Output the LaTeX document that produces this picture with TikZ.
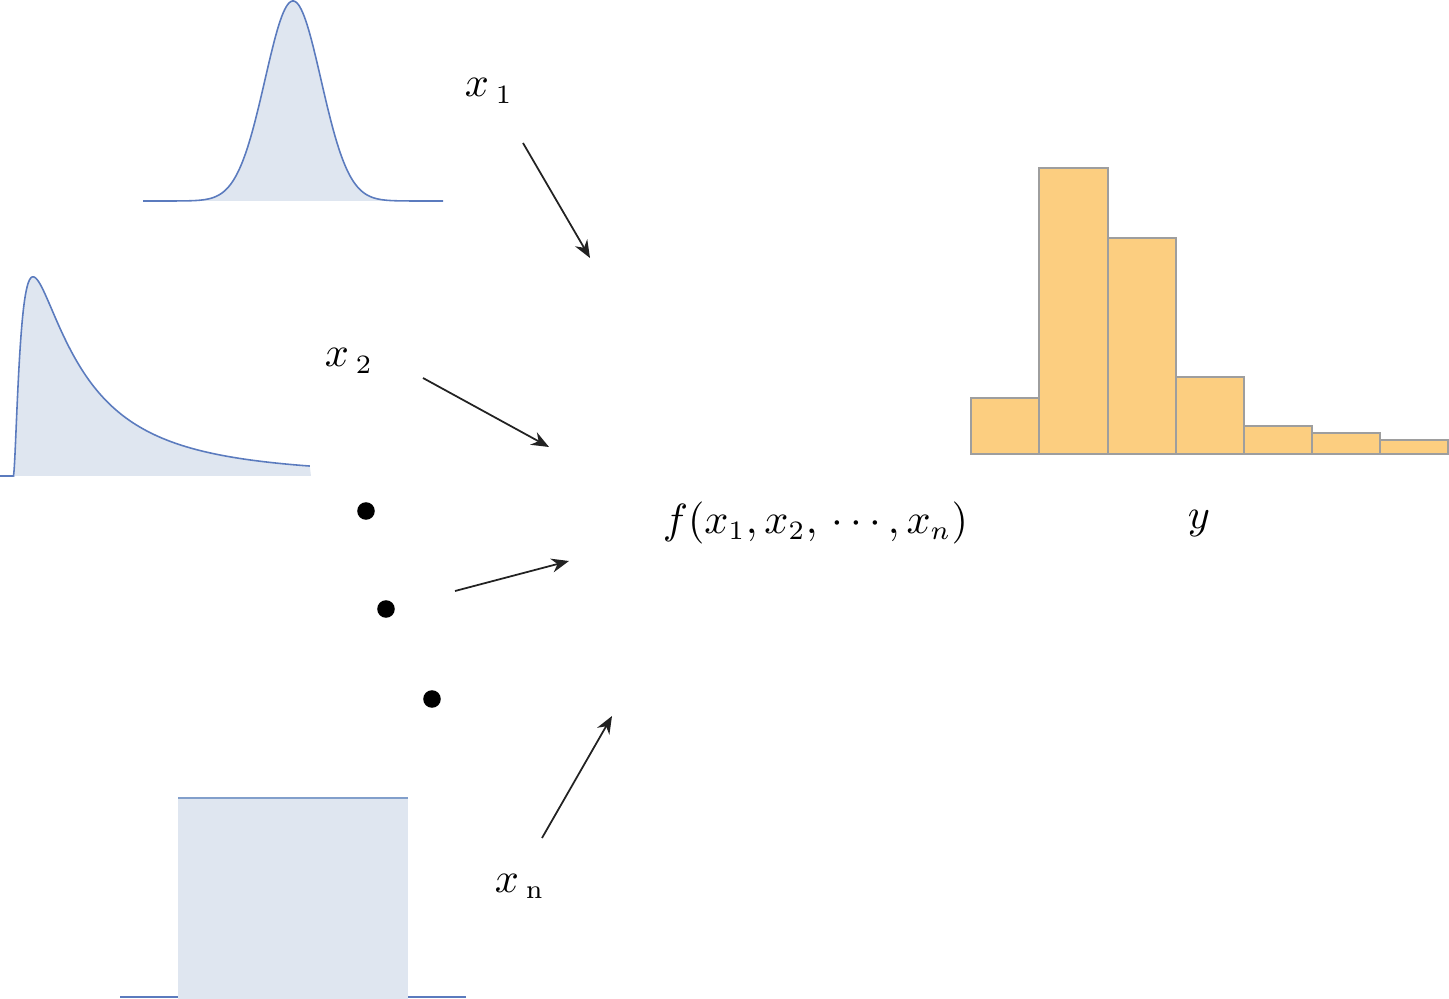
\documentclass[tikz,border=0pt]{standalone}
\usepackage{graphicx}
\usetikzlibrary{arrows.meta}
\definecolor{curveblue}{HTML}{5B7BBE}
\definecolor{fillblue}{HTML}{DFE6F0}
\definecolor{topblue}{HTML}{829FCB}
\definecolor{barfill}{HTML}{FCCE80}
\definecolor{bargray}{HTML}{9E9E9E}
\definecolor{arrowc}{HTML}{222222}
\tikzset{
  distline/.style={draw=curveblue, line width=0.9pt},
  distfill/.style={fill=fillblue},
  bar/.style={fill=barfill, draw=bargray, line width=0.6pt},
  arr/.style={draw=arrowc, line width=1pt, -{Stealth[length=10pt,width=8pt]}},
  lab/.style={inner sep=0pt, scale=2.4, anchor=base west},
  bigdot/.style={circle, fill=black, minimum size=10pt, inner sep=0pt},
}
\newcommand{\smallsub}[1]{\scalebox{0.9}{$\scriptstyle #1$}}
\newcommand{\gapx}[1]{{x\mkern3mu}_{\smallsub{#1}}}
\newcommand{\tightx}[1]{x_{\smallsub{#1}}}
\begin{document}
\begin{tikzpicture}[x=0.02cm,y=-0.02cm]
\useasboundingbox (0,0) rectangle (1449,999);
% Gaussian
\fill[distfill] (143,201) -- plot[domain=143:443, samples=200] (\x, {201-200*exp(-0.5*((\x-293)/28)^2)}) -- cycle;
\draw[distline] plot[domain=143:443, samples=200] (\x, {201-200*exp(-0.5*((\x-293)/28)^2)});
% Lognormal
\fill[distfill] (13,476) -- plot[domain=-1:5.697, samples=300] ({13+exp(\x)}, {476-200*(20/exp(\x))*exp(-((\x-4.21)^2-1.4641)/2.42)}) -- (311,476) -- cycle;
\draw[distline] (0,476) -- (13,476) -- plot[domain=-1:5.697, samples=300] ({13+exp(\x)}, {476-200*(20/exp(\x))*exp(-((\x-4.21)^2-1.4641)/2.42)});
% Uniform
\fill[distfill] (178,798) rectangle (408,999);
\draw[draw=topblue, line width=1.2pt] (178,798) -- (408,798);
\draw[distline] (120,997) -- (178,997);
\draw[distline] (408,997) -- (466,997);
% Histogram
\draw[bar] (971,454) rectangle (1039,398);
\draw[bar] (1039,454) rectangle (1108,168);
\draw[bar] (1108,454) rectangle (1176,238);
\draw[bar] (1176,454) rectangle (1244,377);
\draw[bar] (1244,454) rectangle (1312,426);
\draw[bar] (1312,454) rectangle (1380,433);
\draw[bar] (1380,454) rectangle (1448,440);
% dots
\node[bigdot] (d1) at (366,511) {};
\node[bigdot] (d2) at (386,609) {};
\node[bigdot] (d3) at (432,699) {};
% labels
\node[lab] (x1) at (464,97) {$\gapx{1}$};
\node[lab] (x2) at (324,367) {$\gapx{2}$};
\node[lab] (xn) at (494,892) {$\gapx{\mathrm{n}}$};
\node[lab] (f) at (662,533) {$f(\tightx{1},\tightx{2},\,\cdots,\tightx{n})$};
\node[lab] (y) at (1187,528) {$y$};
% arrow endpoints
\coordinate (a1s) at (523,143); \coordinate (a1e) at (590,258);
\coordinate (a2s) at (423,378); \coordinate (a2e) at (549,447);
\coordinate (a3s) at (455,591); \coordinate (a3e) at (569,561);
\coordinate (a4s) at (542,838); \coordinate (a4e) at (612,716);
\draw[arr] (a1s) -- (a1e);
\draw[arr] (a2s) -- (a2e);
\draw[arr] (a3s) -- (a3e);
\draw[arr] (a4s) -- (a4e);
\end{tikzpicture}
\end{document}
